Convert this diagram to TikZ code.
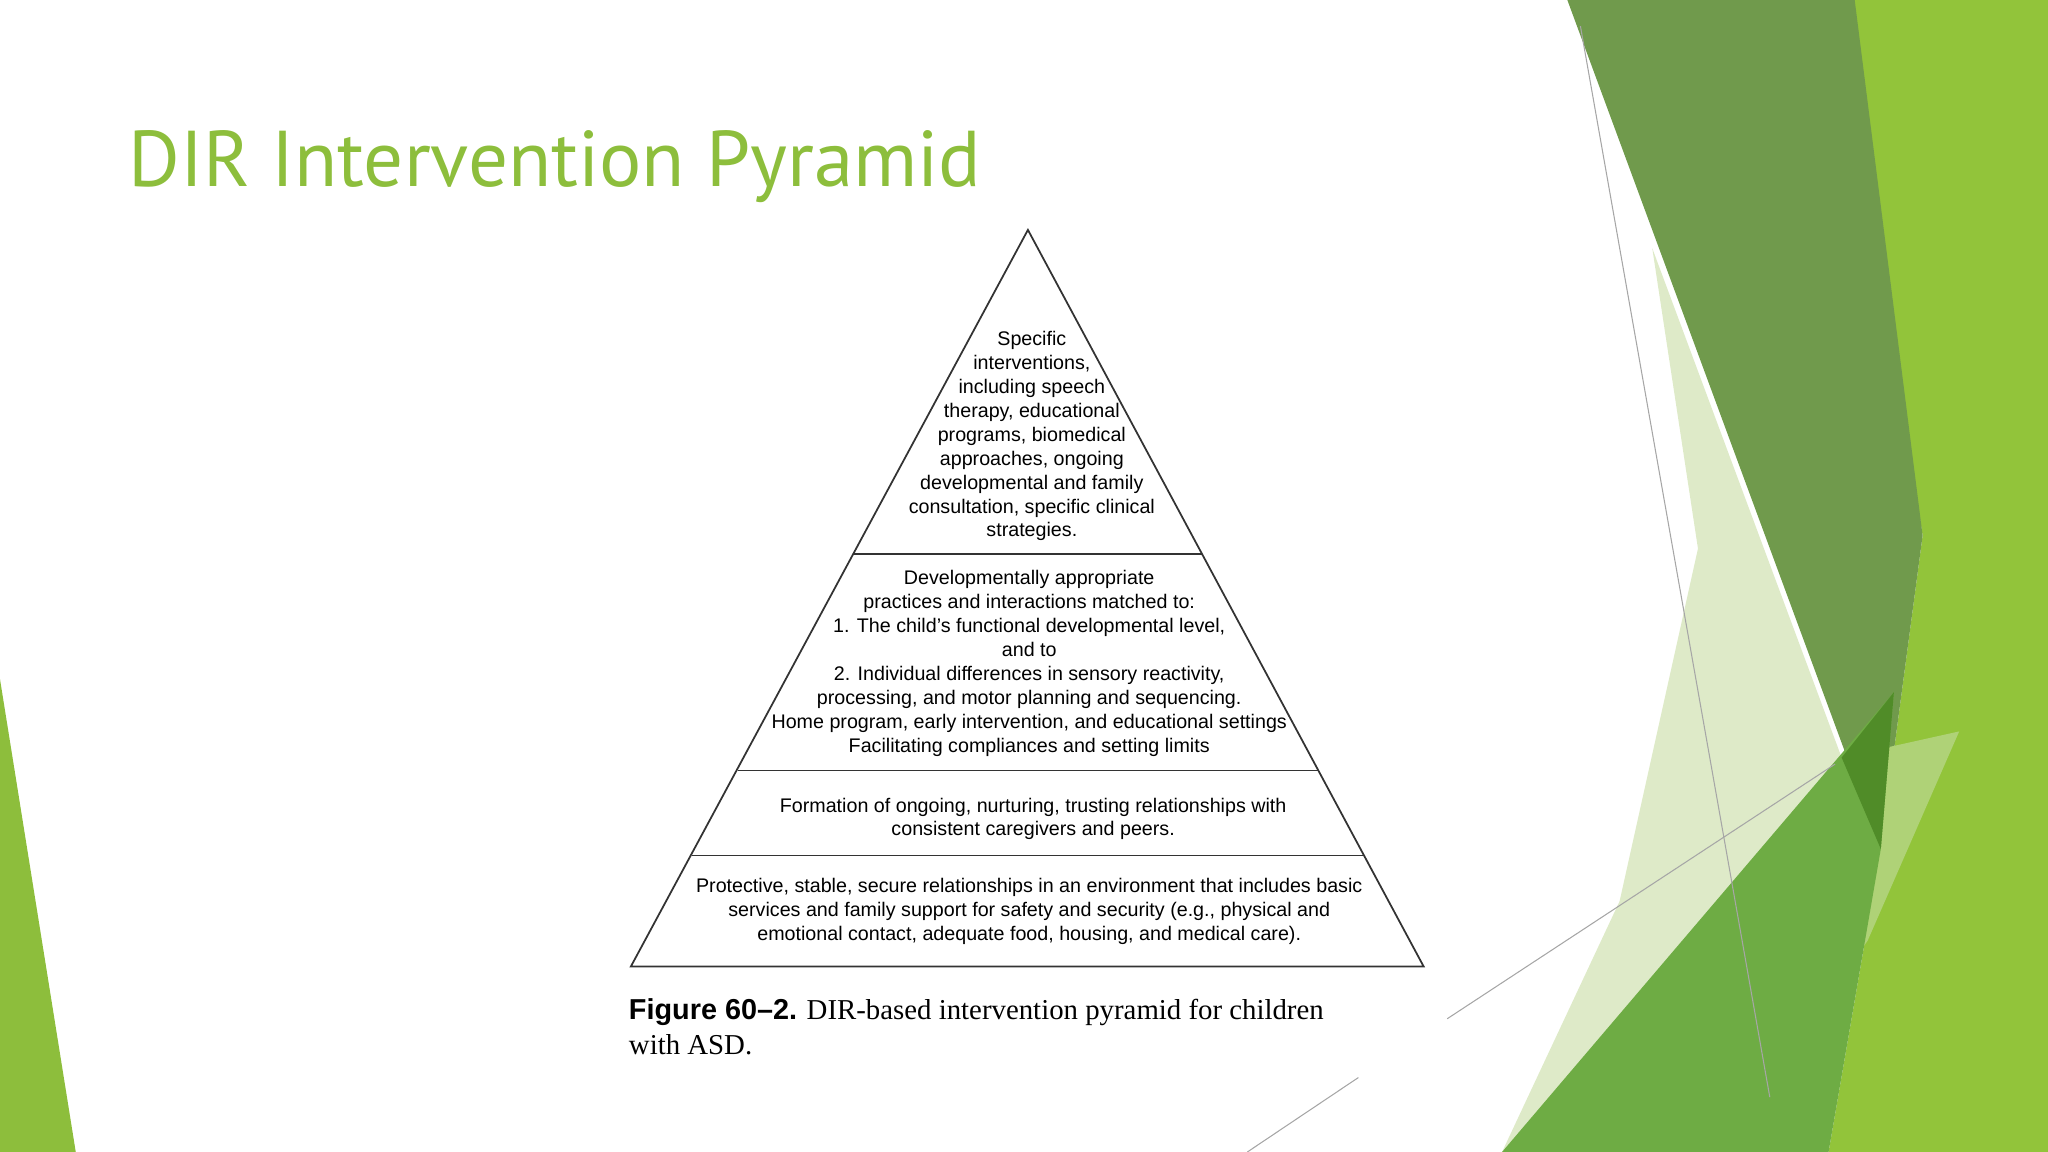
\documentclass[tikz,border=0pt]{standalone}
\usepackage{fontspec}
\setmainfont{Liberation Serif}
\setsansfont{Liberation Sans}
\newfontfamily\titlefont{PT Sans}
\usetikzlibrary{positioning}
\definecolor{leaf}{RGB}{141,190,60}
\definecolor{moss}{RGB}{112,154,76}
\definecolor{lime}{RGB}{146,196,58}
\definecolor{pale}{RGB}{222,234,200}
\definecolor{fern}{RGB}{110,172,68}
\definecolor{deep}{RGB}{80,140,40}
\begin{document}
\begin{tikzpicture}[x=0.01306cm, y=-0.01306cm,
    layer/.style={align=center, font=\sffamily\fontsize{5.6}{6.8}\selectfont, inner sep=0pt},
    edge/.style={draw=black!80, line width=0.5pt},
    thin/.style={draw=black!35, line width=0.3pt}
]
\useasboundingbox (0,0) rectangle (1568,882);

% Decoration
\fill[pale] (1265,190) -- (1410,580) -- (1190,882) -- (1150,882) -- (1240,690) -- (1300,420) -- cycle;
\fill[lime] (1408,0) -- (1568,0) -- (1568,882) -- (1400,882) -- (1440,650) -- (1472,410) -- cycle;
\fill[moss] (1200,0) -- (1420,0) -- (1472,410) -- (1440,650) -- cycle;
\fill[leaf!70] (1410,580) -- (1500,560) -- (1430,720) -- (1320,882) -- (1190,882) -- cycle;
\fill[fern] (1150,882) -- (1450,530) -- (1440,650) -- (1400,882) -- cycle;
\fill[deep] (1410,580) -- (1450,530) -- (1440,650) -- cycle;
\fill[leaf] (0,520) -- (58,882) -- (0,882) -- cycle;
\draw[thin] (1210,20) -- (1355,840);
\draw[thin] (1108,780) -- (1405,585);
\draw[thin] (955,882) -- (1040,825);

% Title
\node[anchor=base west, inner sep=0pt, text=leaf, font=\titlefont\fontsize{22.5}{26}\selectfont] (title) at (98,143) {DIR Intervention Pyramid};

% Pyramid
\coordinate (apex) at (787,176);
\coordinate (bl) at (483,740);
\coordinate (br) at (1090,740);
\draw[edge] (apex) -- (bl) -- (br) -- cycle;
\draw[edge] (654,424) -- (920,424);
\draw[edge] (565,590) -- (1009,590);
\draw[edge] (530,655) -- (1045,655);

\node[layer] (top) at (790,334) {Specific\\interventions,\\including speech\\therapy, educational\\programs, biomedical\\approaches, ongoing\\developmental and family\\consultation, specific clinical\\strategies.};
\node[layer] (mid) at (788,508) {Developmentally appropriate\\practices and interactions matched to:\\1. The child’s functional developmental level,\\and to\\2. Individual differences in sensory reactivity,\\processing, and motor planning and sequencing.\\Home program, early intervention, and educational settings\\Facilitating compliances and setting limits};
\node[layer] (rel) at (791,627) {Formation of ongoing, nurturing, trusting relationships with\\consistent caregivers and peers.};
\node[layer] (base) at (788,698) {Protective, stable, secure relationships in an environment that includes basic\\services and family support for safety and security (e.g., physical and\\emotional contact, adequate food, housing, and medical care).};

% Caption
\node[anchor=north west, inner sep=0pt, align=left, font=\fontsize{8.2}{10}\selectfont] (caption) at (481,764) {{\sffamily\bfseries Figure 60–2.} DIR-based intervention pyramid for children\\with ASD.};
\end{tikzpicture}
\end{document}
